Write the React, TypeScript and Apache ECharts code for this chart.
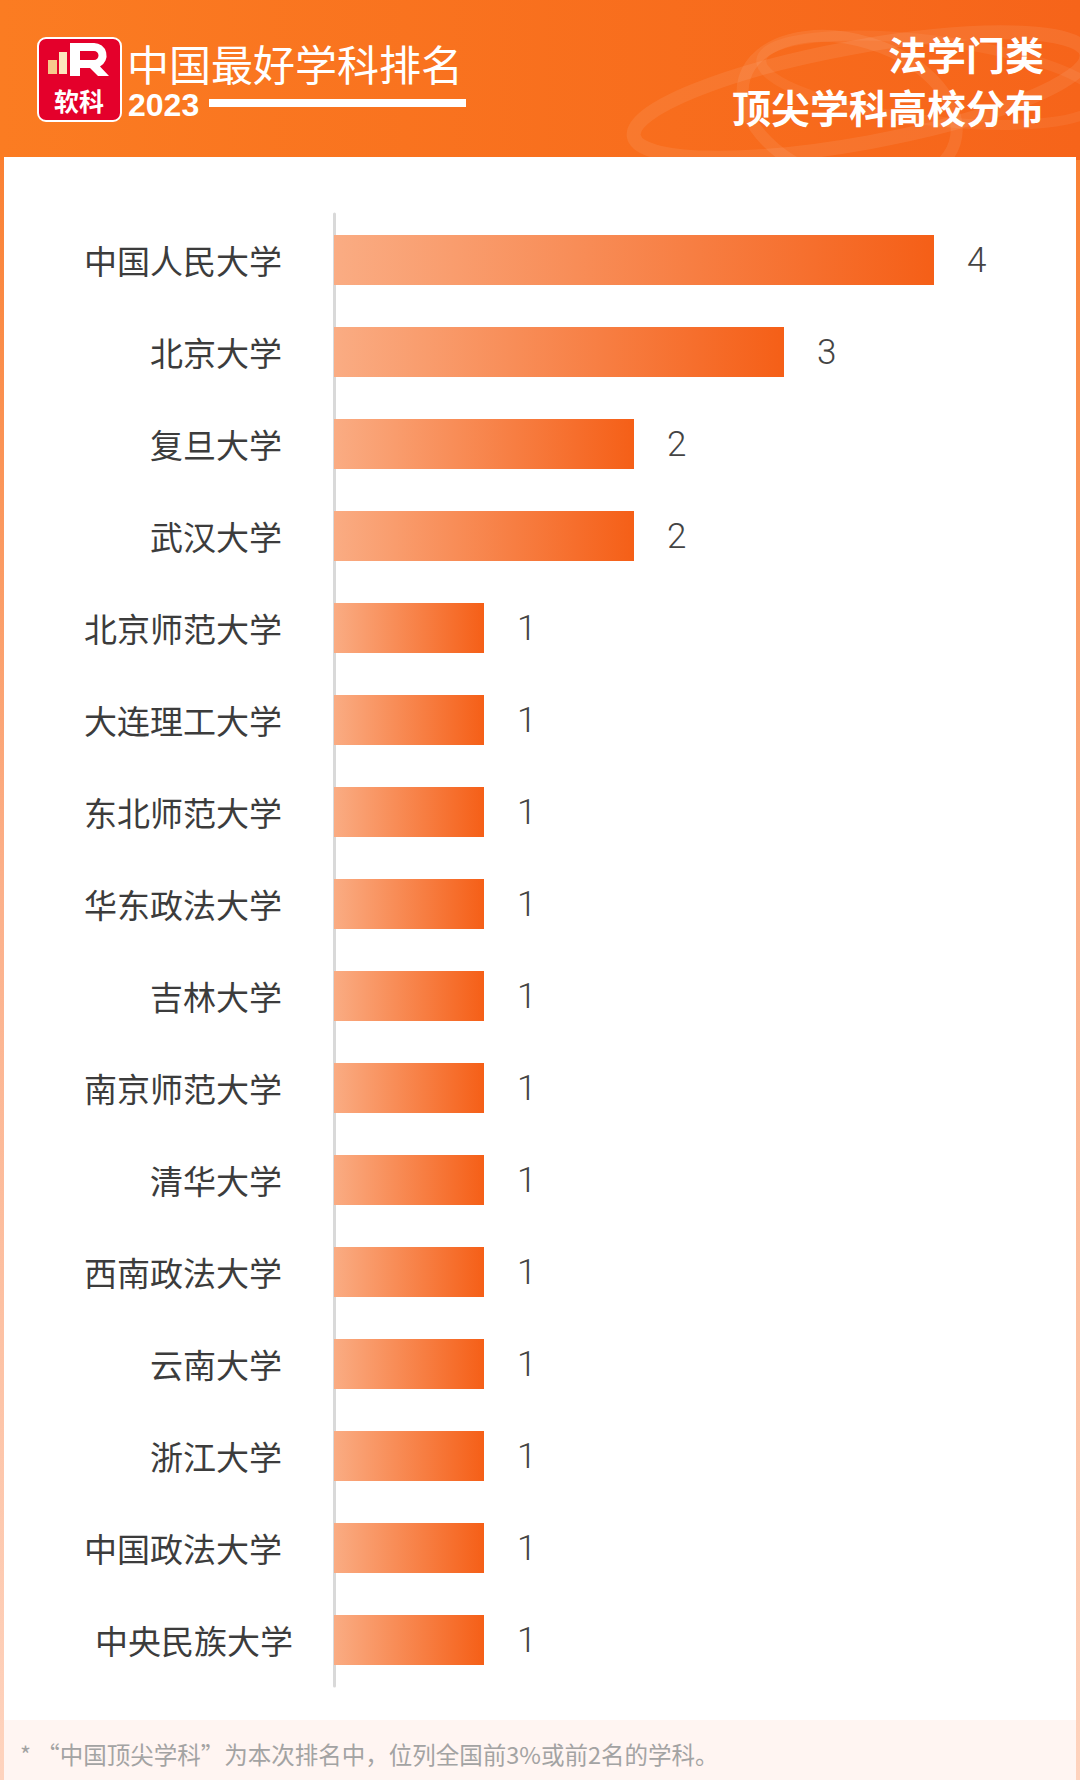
import React, { useEffect, useRef } from "react";
import * as echarts from "echarts";

const categories = [
  "中国人民大学",
  "北京大学",
  "复旦大学",
  "武汉大学",
  "北京师范大学",
  "大连理工大学",
  "东北师范大学",
  "华东政法大学",
  "吉林大学",
  "南京师范大学",
  "清华大学",
  "西南政法大学",
  "云南大学",
  "浙江大学",
  "中国政法大学",
  "中央民族大学",
];
const counts = [4, 3, 2, 2, 1, 1, 1, 1, 1, 1, 1, 1, 1, 1, 1, 1];

const brandTitle = "中国最好学科排名";
const brandYear = "2023";
const titleLine1 = "法学门类";
const titleLine2 = "顶尖学科高校分布";
const footNote = "* “中国顶尖学科”为本次排名中，位列全国前3%或前2名的学科。";

const CJK = '"Noto Sans CJK SC", "Noto Sans", sans-serif';

echarts.graphic.registerShape(
  "logoR",
  echarts.graphic.extendPath(
    "M70 47 H94 A12.5 12.5 0 0 1 100 70.5 L109 80 H98 L90 72 H80 V80 H70 Z M80 55 V64 H94 A4.5 4.5 0 0 0 94 55 Z",
    {}
  )
);

export default function App() {
  const ref = useRef<HTMLDivElement>(null);

  useEffect(() => {
    if (!ref.current) return;
    const chart = echarts.init(ref.current, null, { renderer: "svg" });
    const last = categories.length - 1;

    const option: any = {
      animation: false,
      graphic: {
        elements: [
          {
            type: "rect",
            shape: { x: 0, y: 0, width: 1080, height: 1780 },
            style: {
              fill: new echarts.graphic.LinearGradient(0, 0, 0, 1, [
                { offset: 0, color: "#fa7620" },
                { offset: 0.5, color: "#fcb08a" },
                { offset: 1, color: "#fed3be" },
              ]),
            },
            silent: true,
          },
          {
            type: "rect",
            shape: { x: 0, y: 0, width: 1080, height: 160 },
            style: {
              fill: new echarts.graphic.LinearGradient(0, 0, 1, 0, [
                { offset: 0, color: "#fb7c22" },
                { offset: 1, color: "#f6641a" },
              ]),
            },
            silent: true,
          },
          {
            type: "ellipse",
            shape: { cx: 860, cy: 95, rx: 230, ry: 48 },
            rotation: 0.18,
            originX: 860,
            originY: 95,
            style: { fill: "none", stroke: "rgba(255,255,255,0.08)", lineWidth: 14 },
            silent: true,
          },
          {
            type: "ellipse",
            shape: { cx: 850, cy: 110, rx: 110, ry: 70 },
            rotation: -0.3,
            originX: 850,
            originY: 110,
            style: { fill: "none", stroke: "rgba(255,255,255,0.08)", lineWidth: 12 },
            silent: true,
          },
          {
            type: "ellipse",
            shape: { cx: 930, cy: 80, rx: 170, ry: 40 },
            rotation: -0.12,
            originX: 930,
            originY: 80,
            style: { fill: "none", stroke: "rgba(255,255,255,0.06)", lineWidth: 10 },
            silent: true,
          },
          {
            type: "rect",
            shape: { x: 4, y: 157, width: 1072, height: 1563 },
            style: { fill: "#ffffff" },
            silent: true,
          },
          {
            type: "rect",
            shape: { x: 4, y: 1720, width: 1072, height: 60 },
            style: { fill: "#fff5f2" },
            silent: true,
          },
          {
            type: "text",
            x: 20,
            y: 1754,
            style: {
              text: footNote,
              fill: "#a3a3a3",
              font: `23.5px ${CJK}`,
              lineHeight: 24,
              textVerticalAlign: "middle",
              textAlign: "left",
            },
          },
          // logo
          {
            type: "rect",
            shape: { x: 38, y: 38, width: 83, height: 83, r: 8 },
            style: { fill: "#e4002b", stroke: "#ffffff", lineWidth: 2 },
            silent: true,
          },
          {
            type: "rect",
            shape: { x: 48, y: 60, width: 9, height: 14 },
            style: { fill: "#f7c98c" },
            silent: true,
          },
          {
            type: "rect",
            shape: { x: 59, y: 52, width: 8, height: 22 },
            style: { fill: "#fde7bd" },
            silent: true,
          },
          {
            type: "logoR",
            x: 0,
            y: -4,
            style: { fill: "#ffffff" },
            silent: true,
          },
          {
            type: "text",
            x: 79,
            y: 100,
            style: {
              text: "软科",
              fill: "#ffffff",
              font: `bold 25px ${CJK}`,
              lineHeight: 25,
              textAlign: "center",
              textVerticalAlign: "middle",
            },
          },
          {
            type: "text",
            x: 127,
            y: 62,
            style: {
              text: brandTitle,
              fill: "#ffffff",
              font: `42px ${CJK}`,
              lineHeight: 42,
              textAlign: "left",
              textVerticalAlign: "middle",
            },
          },
          {
            type: "text",
            x: 128,
            y: 105,
            style: {
              text: brandYear,
              fill: "#ffffff",
              font: `bold 32px "Liberation Sans", Arial, sans-serif`,
              lineHeight: 32,
              textAlign: "left",
              textVerticalAlign: "middle",
            },
          },
          {
            type: "rect",
            shape: { x: 209, y: 99, width: 257, height: 8 },
            style: { fill: "#ffffff" },
            silent: true,
          },
          {
            type: "text",
            x: 1044,
            y: 53,
            style: {
              text: titleLine1,
              fill: "#ffffff",
              font: `bold 39px ${CJK}`,
              lineHeight: 40,
              textAlign: "right",
              textVerticalAlign: "middle",
            },
          },
          {
            type: "text",
            x: 1044,
            y: 106,
            style: {
              text: titleLine2,
              fill: "#ffffff",
              font: `bold 39px ${CJK}`,
              lineHeight: 40,
              textAlign: "right",
              textVerticalAlign: "middle",
            },
          },
        ],
      },
      grid: { left: 334, top: 214, width: 600, height: 1472, containLabel: false },
      xAxis: {
        type: "value",
        min: 0,
        max: 4,
        show: false,
        splitLine: { show: false },
      },
      yAxis: {
        type: "category",
        inverse: true,
        data: categories,
        z: 10,
        axisLine: { show: true, lineStyle: { color: "#d9d9d9", width: 3 } },
        axisTick: { show: false },
        axisLabel: {
          margin: 41,
          fontSize: 33,
          color: "#3c3c3c",
          fontFamily: CJK,
          formatter: (v: string, i: number) => (i === last ? `{b|${v}}` : `{a|${v}}`),
          rich: {
            a: { fontSize: 33, color: "#3c3c3c", fontFamily: CJK, padding: [0, 11, 0, 0] },
            b: { fontSize: 33, color: "#3c3c3c", fontFamily: CJK },
          },
        },
      },
      series: [
        {
          type: "bar",
          data: counts,
          barWidth: 50,
          z: 10,
          itemStyle: {
            color: new echarts.graphic.LinearGradient(0, 0, 1, 0, [
              { offset: 0, color: "#faac83" },
              { offset: 1, color: "#f55f17" },
            ]),
          },
          label: {
            show: true,
            position: "right",
            distance: 33,
            fontSize: 35,
            fontWeight: 300,
            color: "#444444",
            fontFamily: "Roboto, sans-serif",
          },
        },
      ],
    };

    chart.setOption(option);
    return () => chart.dispose();
  }, []);

  return (
    <div
      ref={ref}
      style={{ position: "absolute", left: 0, top: 0, width: 1080, height: 1780 }}
    />
  );
}
